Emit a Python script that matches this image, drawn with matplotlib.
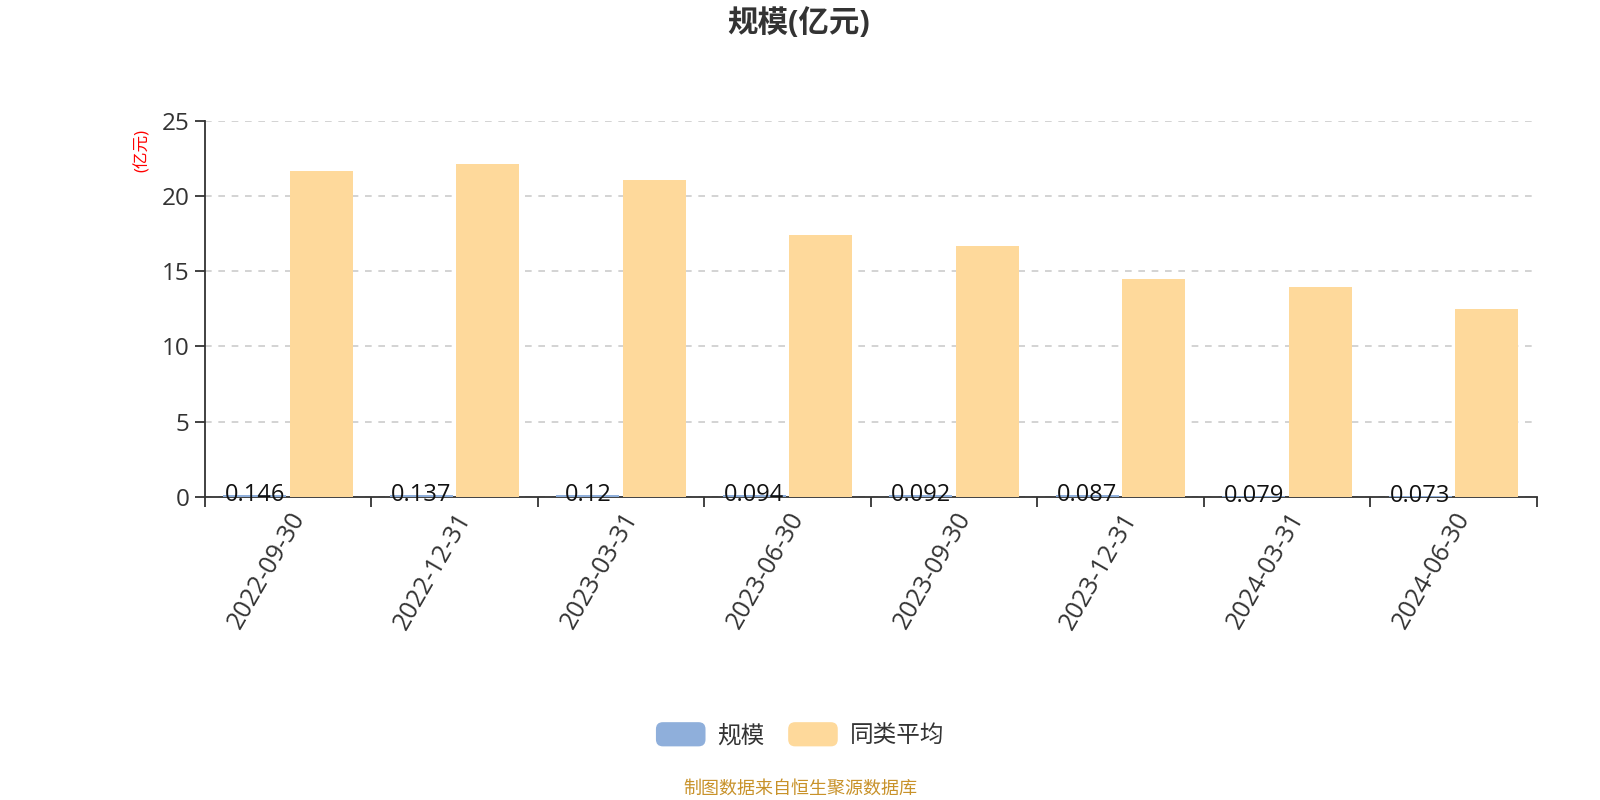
import numpy as np
import matplotlib
matplotlib.use('Agg')
import matplotlib.pyplot as plt
from matplotlib.patches import FancyBboxPatch, Patch
from matplotlib.legend_handler import HandlerPatch

plt.rcParams['font.family'] = ['Open Sans', 'Noto Sans CJK SC', 'DejaVu Sans']

# 数据
dates = ['2022-09-30', '2022-12-31', '2023-03-31', '2023-06-30',
         '2023-09-30', '2023-12-31', '2024-03-31', '2024-06-30']
scale = [0.146, 0.137, 0.12, 0.094, 0.092, 0.087, 0.079, 0.073]
peer_avg = [21.68, 22.1, 21.08, 17.42, 16.68, 14.47, 13.94, 12.46]

blue = '#8FAFDB'
orange = '#FED99B'
axis_col = '#333333'


class RoundHandler(HandlerPatch):
    # 圆角图例色块
    def create_artists(self, legend, orig_handle, xdescent, ydescent,
                       width, height, fontsize, trans):
        p = FancyBboxPatch((-xdescent, -ydescent), width, height,
                           boxstyle='round,pad=0,rounding_size=5',
                           facecolor=orig_handle.get_facecolor(),
                           edgecolor='none', transform=trans)
        return [p]


fig = plt.figure(figsize=(16, 8), dpi=100)
ax = fig.add_axes([0.128, 0.379, 0.8325, 0.470])

x = np.arange(len(dates))
w = 0.38
ax.bar(x - 0.2, scale, width=w, color=blue, zorder=3)
ax.bar(x + 0.2, peer_avg, width=w, color=orange, zorder=3)

# 数值标签
for xi, v in zip(x, scale):
    ax.annotate(str(v), (xi - 0.2, v), xytext=(0, -6), textcoords='offset pixels',
                ha='center', va='baseline', fontsize=17, color='#111111', zorder=5)

ax.set_xlim(-0.5, len(dates) - 0.5)
ax.set_ylim(0, 25)
ax.set_yticks([0, 5, 10, 15, 20, 25])
ax.yaxis.grid(True, linestyle=(0, (4, 4)), color='#cccccc', linewidth=1.2)
ax.set_axisbelow(True)

# x 轴刻度位于类别边界，标签居中
ax.set_xticks(np.arange(-0.5, len(dates)), minor=False)
ax.set_xticklabels([])
ax.set_xticks(x, minor=True)
ax.set_xticklabels(dates, minor=True, rotation=60, ha='right', va='top',
                   rotation_mode='anchor', fontsize=18, color=axis_col)
ax.tick_params(axis='x', which='major', length=7, width=1.3, color=axis_col)
ax.tick_params(axis='x', which='minor', length=0, pad=8)
ax.tick_params(axis='y', length=7, width=1.3, color=axis_col, labelsize=17.5,
               labelcolor=axis_col, pad=4)

for s in ['top', 'right']:
    ax.spines[s].set_visible(False)
for s in ['left', 'bottom']:
    ax.spines[s].set_color(axis_col)
    ax.spines[s].set_linewidth(1.3)

fig.text(0.0894, 0.812, '(亿元)', rotation=90, color='red', fontsize=12,
         ha='center', va='center')

fig.text(0.499, 0.971, '规模(亿元)', fontsize=22, fontweight='bold',
         color='#333333', ha='center', va='center')

handles = [Patch(facecolor=blue, label='规模'), Patch(facecolor=orange, label='同类平均')]
fig.legend(handles=handles, loc='center', bbox_to_anchor=(0.50, 0.081), ncol=2,
           frameon=False, fontsize=17, handlelength=2.1, handleheight=1.2,
           handletextpad=0.5, columnspacing=1.0, labelcolor='#333333',
           handler_map={Patch: RoundHandler()})

fig.text(0.5, 0.014, '制图数据来自恒生聚源数据库', fontsize=13, color='#C8922A',
         ha='center', va='center')

fig.savefig('out.png', dpi=100)
